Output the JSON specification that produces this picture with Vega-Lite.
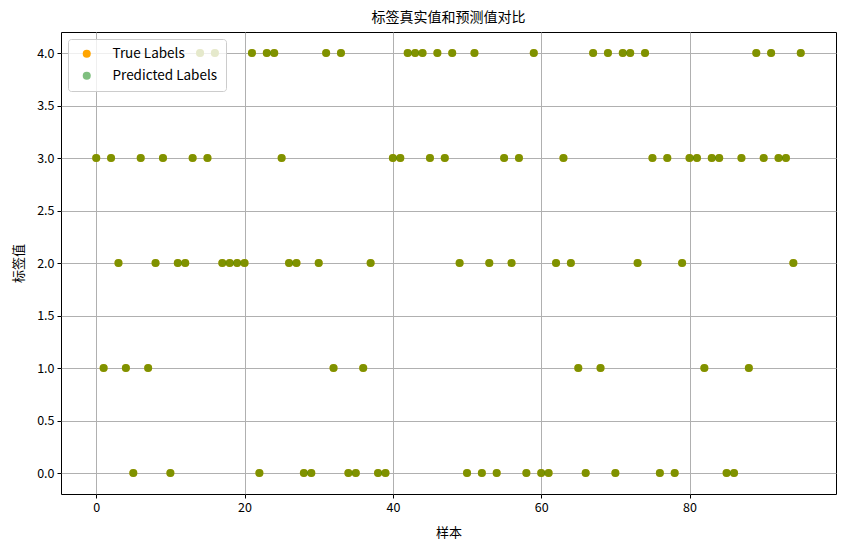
{
  "$schema": "https://vega.github.io/schema/vega-lite/v6.json",
  "width": 775,
  "height": 462,
  "autosize": {"type": "none"},
  "padding": {"left": 61, "top": 32, "right": 9, "bottom": 57},
  "background": "white",
  "title": {
    "text": "标签真实值和预测值对比",
    "font": "Noto Sans CJK SC",
    "fontSize": 14,
    "fontWeight": "normal",
    "color": "black",
    "offset": 7
  },
  "data": {
    "values": [
      {"sample": 0, "True Labels": 3, "Predicted Labels": 3},
      {"sample": 1, "True Labels": 1, "Predicted Labels": 1},
      {"sample": 2, "True Labels": 3, "Predicted Labels": 3},
      {"sample": 3, "True Labels": 2, "Predicted Labels": 2},
      {"sample": 4, "True Labels": 1, "Predicted Labels": 1},
      {"sample": 5, "True Labels": 0, "Predicted Labels": 0},
      {"sample": 6, "True Labels": 3, "Predicted Labels": 3},
      {"sample": 7, "True Labels": 1, "Predicted Labels": 1},
      {"sample": 8, "True Labels": 2, "Predicted Labels": 2},
      {"sample": 9, "True Labels": 3, "Predicted Labels": 3},
      {"sample": 10, "True Labels": 0, "Predicted Labels": 0},
      {"sample": 11, "True Labels": 2, "Predicted Labels": 2},
      {"sample": 12, "True Labels": 2, "Predicted Labels": 2},
      {"sample": 13, "True Labels": 3, "Predicted Labels": 3},
      {"sample": 14, "True Labels": 4, "Predicted Labels": 4},
      {"sample": 15, "True Labels": 3, "Predicted Labels": 3},
      {"sample": 16, "True Labels": 4, "Predicted Labels": 4},
      {"sample": 17, "True Labels": 2, "Predicted Labels": 2},
      {"sample": 18, "True Labels": 2, "Predicted Labels": 2},
      {"sample": 19, "True Labels": 2, "Predicted Labels": 2},
      {"sample": 20, "True Labels": 2, "Predicted Labels": 2},
      {"sample": 21, "True Labels": 4, "Predicted Labels": 4},
      {"sample": 22, "True Labels": 0, "Predicted Labels": 0},
      {"sample": 23, "True Labels": 4, "Predicted Labels": 4},
      {"sample": 24, "True Labels": 4, "Predicted Labels": 4},
      {"sample": 25, "True Labels": 3, "Predicted Labels": 3},
      {"sample": 26, "True Labels": 2, "Predicted Labels": 2},
      {"sample": 27, "True Labels": 2, "Predicted Labels": 2},
      {"sample": 28, "True Labels": 0, "Predicted Labels": 0},
      {"sample": 29, "True Labels": 0, "Predicted Labels": 0},
      {"sample": 30, "True Labels": 2, "Predicted Labels": 2},
      {"sample": 31, "True Labels": 4, "Predicted Labels": 4},
      {"sample": 32, "True Labels": 1, "Predicted Labels": 1},
      {"sample": 33, "True Labels": 4, "Predicted Labels": 4},
      {"sample": 34, "True Labels": 0, "Predicted Labels": 0},
      {"sample": 35, "True Labels": 0, "Predicted Labels": 0},
      {"sample": 36, "True Labels": 1, "Predicted Labels": 1},
      {"sample": 37, "True Labels": 2, "Predicted Labels": 2},
      {"sample": 38, "True Labels": 0, "Predicted Labels": 0},
      {"sample": 39, "True Labels": 0, "Predicted Labels": 0},
      {"sample": 40, "True Labels": 3, "Predicted Labels": 3},
      {"sample": 41, "True Labels": 3, "Predicted Labels": 3},
      {"sample": 42, "True Labels": 4, "Predicted Labels": 4},
      {"sample": 43, "True Labels": 4, "Predicted Labels": 4},
      {"sample": 44, "True Labels": 4, "Predicted Labels": 4},
      {"sample": 45, "True Labels": 3, "Predicted Labels": 3},
      {"sample": 46, "True Labels": 4, "Predicted Labels": 4},
      {"sample": 47, "True Labels": 3, "Predicted Labels": 3},
      {"sample": 48, "True Labels": 4, "Predicted Labels": 4},
      {"sample": 49, "True Labels": 2, "Predicted Labels": 2},
      {"sample": 50, "True Labels": 0, "Predicted Labels": 0},
      {"sample": 51, "True Labels": 4, "Predicted Labels": 4},
      {"sample": 52, "True Labels": 0, "Predicted Labels": 0},
      {"sample": 53, "True Labels": 2, "Predicted Labels": 2},
      {"sample": 54, "True Labels": 0, "Predicted Labels": 0},
      {"sample": 55, "True Labels": 3, "Predicted Labels": 3},
      {"sample": 56, "True Labels": 2, "Predicted Labels": 2},
      {"sample": 57, "True Labels": 3, "Predicted Labels": 3},
      {"sample": 58, "True Labels": 0, "Predicted Labels": 0},
      {"sample": 59, "True Labels": 4, "Predicted Labels": 4},
      {"sample": 60, "True Labels": 0, "Predicted Labels": 0},
      {"sample": 61, "True Labels": 0, "Predicted Labels": 0},
      {"sample": 62, "True Labels": 2, "Predicted Labels": 2},
      {"sample": 63, "True Labels": 3, "Predicted Labels": 3},
      {"sample": 64, "True Labels": 2, "Predicted Labels": 2},
      {"sample": 65, "True Labels": 1, "Predicted Labels": 1},
      {"sample": 66, "True Labels": 0, "Predicted Labels": 0},
      {"sample": 67, "True Labels": 4, "Predicted Labels": 4},
      {"sample": 68, "True Labels": 1, "Predicted Labels": 1},
      {"sample": 69, "True Labels": 4, "Predicted Labels": 4},
      {"sample": 70, "True Labels": 0, "Predicted Labels": 0},
      {"sample": 71, "True Labels": 4, "Predicted Labels": 4},
      {"sample": 72, "True Labels": 4, "Predicted Labels": 4},
      {"sample": 73, "True Labels": 2, "Predicted Labels": 2},
      {"sample": 74, "True Labels": 4, "Predicted Labels": 4},
      {"sample": 75, "True Labels": 3, "Predicted Labels": 3},
      {"sample": 76, "True Labels": 0, "Predicted Labels": 0},
      {"sample": 77, "True Labels": 3, "Predicted Labels": 3},
      {"sample": 78, "True Labels": 0, "Predicted Labels": 0},
      {"sample": 79, "True Labels": 2, "Predicted Labels": 2},
      {"sample": 80, "True Labels": 3, "Predicted Labels": 3},
      {"sample": 81, "True Labels": 3, "Predicted Labels": 3},
      {"sample": 82, "True Labels": 1, "Predicted Labels": 1},
      {"sample": 83, "True Labels": 3, "Predicted Labels": 3},
      {"sample": 84, "True Labels": 3, "Predicted Labels": 3},
      {"sample": 85, "True Labels": 0, "Predicted Labels": 0},
      {"sample": 86, "True Labels": 0, "Predicted Labels": 0},
      {"sample": 87, "True Labels": 3, "Predicted Labels": 3},
      {"sample": 88, "True Labels": 1, "Predicted Labels": 1},
      {"sample": 89, "True Labels": 4, "Predicted Labels": 4},
      {"sample": 90, "True Labels": 3, "Predicted Labels": 3},
      {"sample": 91, "True Labels": 4, "Predicted Labels": 4},
      {"sample": 92, "True Labels": 3, "Predicted Labels": 3},
      {"sample": 93, "True Labels": 3, "Predicted Labels": 3},
      {"sample": 94, "True Labels": 2, "Predicted Labels": 2},
      {"sample": 95, "True Labels": 4, "Predicted Labels": 4}
    ]
  },
  "transform": [
    {"fold": ["True Labels", "Predicted Labels"], "as": ["series", "label"]}
  ],
  "mark": {"type": "point", "filled": true, "size": 65, "strokeWidth": 0},
  "encoding": {
    "x": {
      "field": "sample",
      "type": "quantitative",
      "title": "样本",
      "scale": {"domain": [-4.75, 99.75], "nice": false, "zero": false},
      "axis": {"values": [0, 20, 40, 60, 80], "titlePadding": 13}
    },
    "y": {
      "field": "label",
      "type": "quantitative",
      "title": "标签值",
      "scale": {"domain": [-0.2, 4.2], "nice": false, "zero": false},
      "axis": {
        "values": [0, 0.5, 1, 1.5, 2, 2.5, 3, 3.5, 4],
        "format": ".1f",
        "titlePadding": 11
      }
    },
    "color": {
      "field": "series",
      "type": "nominal",
      "title": null,
      "scale": {
        "domain": ["True Labels", "Predicted Labels"],
        "range": ["#FFA500", "#008000"]
      },
      "legend": {"orient": "top-left", "offset": 7}
    },
    "opacity": {
      "field": "series",
      "type": "nominal",
      "title": null,
      "scale": {
        "domain": ["True Labels", "Predicted Labels"],
        "range": [1, 0.5]
      },
      "legend": {"orient": "top-left", "offset": 7}
    },
    "order": {"field": "series", "sort": "descending"}
  },
  "config": {
    "font": "Noto Sans CJK SC",
    "view": {"stroke": "black", "strokeWidth": 1},
    "axis": {
      "domain": false,
      "grid": true,
      "gridColor": "#b0b0b0",
      "gridWidth": 1,
      "ticks": true,
      "tickColor": "black",
      "tickSize": 4,
      "labelColor": "black",
      "labelFont": "Noto Sans CJK SC",
      "labelFontSize": 12.5,
      "labelPadding": 3,
      "titleColor": "black",
      "titleFont": "Noto Sans CJK SC",
      "titleFontSize": 13,
      "titleFontWeight": "normal"
    },
    "legend": {
      "fillColor": "rgba(255,255,255,0.8)",
      "strokeColor": "#cccccc",
      "cornerRadius": 3,
      "padding": 8,
      "symbolSize": 65,
      "symbolStrokeWidth": 0,
      "symbolOffset": 4,
      "labelFont": "Noto Sans CJK SC",
      "labelFontSize": 13.5,
      "labelColor": "black",
      "labelOffset": 19,
      "rowPadding": 7
    }
  }
}
